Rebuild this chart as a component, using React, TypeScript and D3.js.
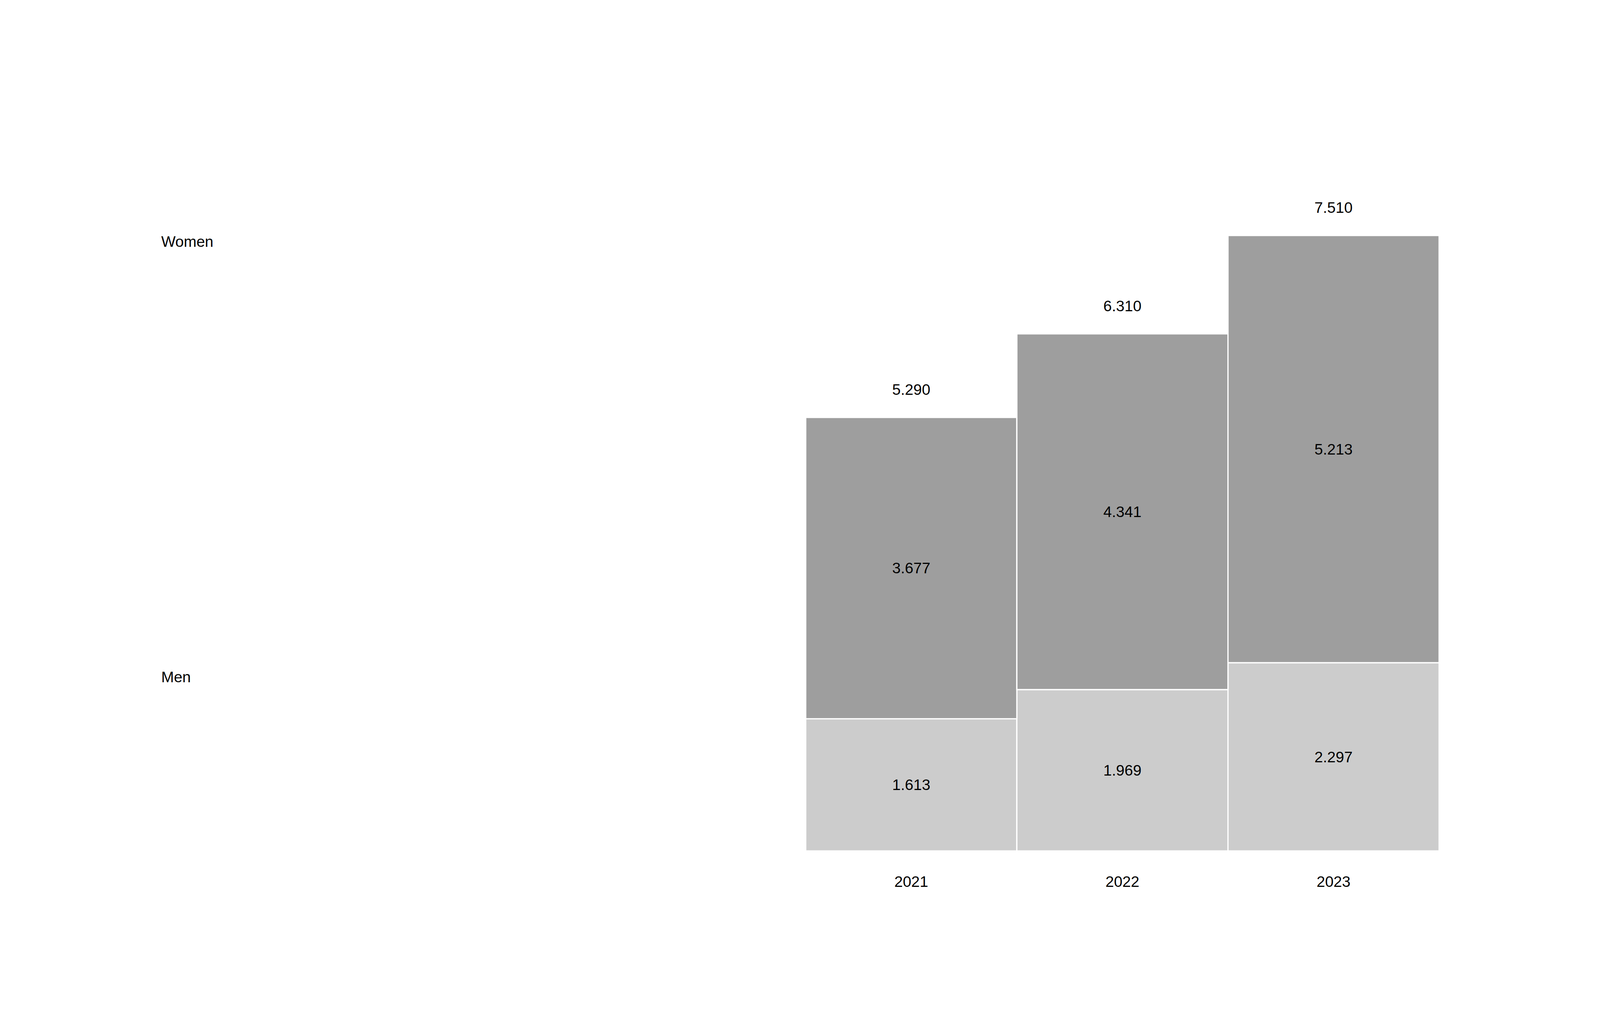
import * as d3 from "d3";
import React, { useRef, useEffect, useState } from "react";

const years = ["2021", "2022", "2023"];
const men = [1613, 1969, 2297];
const women = [3677, 4341, 5213];
const seriesNames = ["Men", "Women"];
const seriesColors = ["#cccccc", "#9e9e9e"];

// layout is designed on a 5042 x 2617 frame and scaled to the real window
const frame = { width: 5042, height: 2617 };
const plot = { left: 2539, right: 4535, bottom: 2179, top: 603 };
const legendPos: Record<string, number> = { Women: 632, Men: 1747 };
const fontFamily = "'Liberation Sans', Arial, sans-serif";
const baseFont = 48;

const locale = d3.formatLocale({
	decimal: ",",
	thousands: ".",
	grouping: [3],
	currency: ["", "€"],
});
const fmt = locale.format(",d");

const App = () => {
	const d3Container = useRef(null);
	const [size, setSize] = useState({
		width: window.innerWidth || frame.width,
		height: window.innerHeight || frame.height,
	});

	useEffect(() => {
		document.body.style.margin = "0";
		document.body.style.overflow = "hidden";
		const onResize = () =>
			setSize({ width: window.innerWidth, height: window.innerHeight });
		window.addEventListener("resize", onResize);
		return () => window.removeEventListener("resize", onResize);
	}, []);

	useEffect(() => {
		if (d3Container.current) {
			const svg = d3.select(d3Container.current);
			svg.selectAll("*").remove();
			renderChart(svg);
		}
	}, [size]);

	const renderChart = (svg: any) => {
		const sx = size.width / frame.width;
		const sy = size.height / frame.height;
		const fs = baseFont * Math.min(sx, sy);

		const rows = years.map((year, i) => ({ year, Men: men[i], Women: women[i] }));
		const stacked = d3.stack().keys(seriesNames)(rows as any);
		const totals = rows.map((r) => r.Men + r.Women);

		const xScale = d3
			.scaleBand()
			.domain(years)
			.range([plot.left * sx, plot.right * sx])
			.padding(0);
		const yScale = d3
			.scaleLinear()
			.domain([0, d3.max(totals) as number])
			.range([plot.bottom * sy, plot.top * sy]);

		const root = svg
			.append("g")
			.attr("font-family", fontFamily)
			.attr("font-size", fs)
			.attr("fill", "#000");

		const layers = root
			.selectAll(".layer")
			.data(stacked)
			.enter()
			.append("g")
			.attr("class", "layer");

		layers
			.selectAll("rect")
			.data((d: any) => d)
			.enter()
			.append("rect")
			.attr("x", (d: any) => xScale(d.data.year))
			.attr("y", (d: any) => yScale(d[1]))
			.attr("width", xScale.bandwidth())
			.attr("height", (d: any) => yScale(d[0]) - yScale(d[1]))
			.attr("fill", function (this: any) {
				const layer: any = d3.select(this.parentNode).datum();
				return seriesColors[layer.index];
			})
			.attr("stroke", "#ffffff")
			.attr("stroke-width", 4 * Math.min(sx, sy));

		// segment values
		layers
			.selectAll("text")
			.data((d: any) => d)
			.enter()
			.append("text")
			.attr("x", (d: any) => (xScale(d.data.year) as number) + xScale.bandwidth() / 2)
			.attr("y", (d: any) => (yScale(d[0]) + yScale(d[1])) / 2)
			.attr("dy", "0.35em")
			.attr("text-anchor", "middle")
			.text((d: any) => fmt(d[1] - d[0]));

		// totals above bars
		root
			.append("g")
			.selectAll("text")
			.data(years)
			.enter()
			.append("text")
			.attr("x", (d: string) => (xScale(d) as number) + xScale.bandwidth() / 2)
			.attr("y", (_: string, i: number) => yScale(totals[i]) - 58 * sy)
			.attr("text-anchor", "middle")
			.text((_: string, i: number) => fmt(totals[i]));

		// year labels
		root
			.append("g")
			.selectAll("text")
			.data(years)
			.enter()
			.append("text")
			.attr("x", (d: string) => (xScale(d) as number) + xScale.bandwidth() / 2)
			.attr("y", yScale(0) + 92 * sy)
			.attr("text-anchor", "middle")
			.text((d: string) => d);

		// series labels on the left
		root
			.append("g")
			.selectAll("text")
			.data(seriesNames)
			.enter()
			.append("text")
			.attr("x", 508 * sx)
			.attr("y", (d: string) => legendPos[d] * sy)
			.text((d: string) => d);
	};

	return (
		<svg
			ref={d3Container}
			width={size.width}
			height={size.height}
			style={{ position: "absolute", left: 0, top: 0, display: "block", background: "white" }}
		/>
	);
};

export default App;
